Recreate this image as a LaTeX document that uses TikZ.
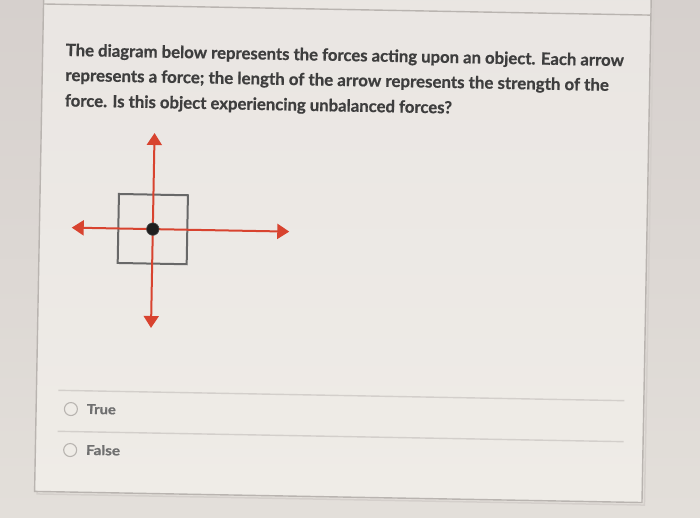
\documentclass[tikz,border=0pt]{standalone}
\usepackage{fontspec}
\usepackage{graphicx}
\setmainfont{Lato}[BoldFeatures={FakeBold=0.7}]
\usetikzlibrary{arrows.meta}
\definecolor{bgtop}{HTML}{D6D0CD}
\definecolor{bgbot}{HTML}{E3DFDA}
\definecolor{cardtop}{HTML}{E9E5E2}
\definecolor{cardbot}{HTML}{EFECE7}
\definecolor{cardline}{HTML}{B9B4B0}
\definecolor{shadowline}{HTML}{D4CFCB}
\definecolor{qtextc}{HTML}{3E3E3E}
\definecolor{opttextc}{HTML}{707070}
\definecolor{sepline}{HTML}{D3CFCB}
\definecolor{forcered}{HTML}{D8432F}
\definecolor{boxgray}{HTML}{686868}
\definecolor{radioline}{HTML}{B8B4B0}
\newsavebox\fitbox
\newdimen\fitw
\newcommand\fitline[2]{\sbox\fitbox{#2}\fitw=\wd\fitbox\pgfmathsetmacro\fitratio{#1/\fitw}\scalebox{\fitratio}[1]{\usebox\fitbox}}
\tikzset{
  qtext/.style={inner sep=0pt, anchor=base west, text=qtextc, font=\fontsize{16.8}{20}\selectfont\bfseries},
  opttext/.style={inner sep=0pt, anchor=base west, text=opttextc, font=\fontsize{13.5}{16}\selectfont\bfseries},
  objbox/.style={draw=boxgray, line width=2pt, minimum size=69pt, inner sep=0pt},
  force/.style={draw=forcered, line width=2pt, -{Triangle[length=12pt,width=15pt]}},
  dotc/.style={circle, fill=black!88, draw=black!70, line width=0.6pt, minimum size=12.5pt, inner sep=0pt},
  radio/.style={circle, draw=radioline, fill=cardbot, line width=1.1pt, minimum size=13pt, inner sep=0pt},
  sep/.style={draw=sepline, line width=1.4pt},
}
\begin{document}
\begin{tikzpicture}[x=1pt,y=-1pt]
\useasboundingbox (0,0) rectangle (700,517);
\shade[top color=bgtop, bottom color=bgbot] (0,0) rectangle (700,517);
\begin{scope}[rotate around={-1.05:(342.75,253.25)}, transform shape]
  % soft shadow and card
  \draw[shadowline, line width=1.5pt] (41.5,-40) -- (41.5,499.5) -- (649,499.5) -- (649,-40);
  \shade[top color=cardtop, bottom color=cardbot] (39,-40) rectangle (646.5,497);
  \draw[cardline, line width=1.4pt] (39,-40) -- (39,497) -- (646.5,497) -- (646.5,-40);
  \draw[cardline, line width=1.4pt] (39,9.5) -- (646.5,9.5);
  % question text
  \node[qtext] (l1) at (62,61) {\fitline{558}{The diagram below represents the forces acting upon an object. Each arrow}};
  \node[qtext] (l2) at (62,86) {\fitline{543.5}{represents a force; the length of the arrow represents the strength of the}};
  \node[qtext] (l3) at (62,111.5) {\fitline{387}{force. Is this object experiencing unbalanced forces?}};
  % diagram
  \coordinate (ctr) at (152.4,232.6);
  \coordinate (tipN) at (152.4,136.5);
  \coordinate (tipS) at (152.4,331.5);
  \coordinate (tipW) at (71.3,232.6);
  \coordinate (tipE) at (288.9,232.6);
  \node[objbox] (obj) at (ctr) {};
  \draw[force] (ctr) -- (tipN);
  \draw[force] (ctr) -- (tipS);
  \draw[force] (ctr) -- (tipW);
  \draw[force] (ctr) -- (tipE);
  \node[dotc] (dot) at (ctr) {};
  % answer options
  \draw[sep] (61,395.5) -- (627,395.5);
  \node[radio] (rT) at (73.8,414) {};
  \node[opttext] (tT) at (89.5,418.5) {\fitline{29}{True}};
  \draw[sep] (61,436.5) -- (627,436.5);
  \node[radio] (rF) at (73.8,455) {};
  \node[opttext] (tF) at (89.5,459.5) {\fitline{34}{False}};
\end{scope}
\end{tikzpicture}
\end{document}
